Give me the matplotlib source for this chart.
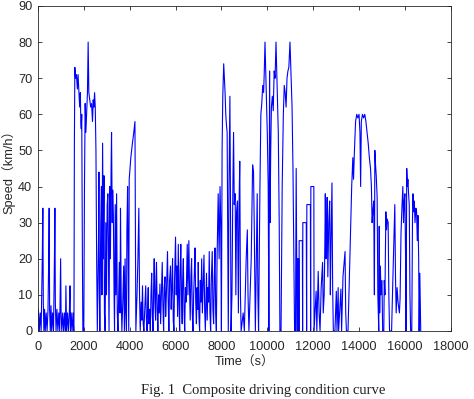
import matplotlib
matplotlib.use("Agg")
import matplotlib.pyplot as plt
import numpy as np

# composite driving cycle (time in s, speed in km/h)
urban_t = [0, 20, 60, 100, 140, 190, 215, 235, 260, 290, 320, 360, 400, 440, 470, 490, 510, 540,
           570, 600, 640, 680, 720, 740, 760, 790, 830, 870, 910, 950, 990, 1010, 1040, 1080,
           1120, 1160, 1200, 1220, 1250, 1290, 1330, 1370, 1400, 1420, 1450, 1490, 1530, 1560]
urban_v = [0, 6, 0, 5, 0, 20, 34, 8, 0, 6, 0, 5, 0, 6, 20, 34, 6, 0,
           7, 0, 5, 0, 20, 34, 8, 0, 6, 0, 5, 0, 20, 5, 0, 5,
           0, 5, 0, 12.5, 0, 5, 0, 5, 12.5, 0, 5, 0, 5, 0]

highway1_t = [1570, 1590, 1610, 1640, 1680, 1720, 1750, 1790, 1820, 1850, 1870, 1890, 1910, 1940,
              1960, 2000, 2030, 2060, 2090, 2120, 2160, 2190, 2220, 2260, 2300, 2340, 2380, 2410,
              2440, 2470, 2500, 2530, 2560, 2590]
highway1_v = [0, 52, 73, 70, 71, 67, 71, 66, 62, 66, 58, 56, 60, 20,
              0, 0, 40, 63, 55, 60, 66, 80, 66, 64, 62, 63, 58, 64,
              62, 66, 62, 50, 20, 0]

suburb_t = [2640, 2660, 2680, 2700, 2740, 2770, 2790, 2820, 2850, 2880, 2900, 2930, 2960, 2990,
            3020, 3050, 3070, 3100, 3130, 3160, 3190, 3210, 3240, 3260, 3290, 3320, 3340, 3370,
            3400, 3430, 3460, 3490, 3520, 3550, 3580, 3600, 3630, 3660, 3700, 3740, 3770, 3800,
            3830, 3860, 3880, 3910, 3940, 3960, 3980, 4050, 4120, 4180, 4230, 4250, 4270, 4320,
            4360, 4400, 4430, 4460]
suburb_v = [25, 44, 10, 0, 30, 40, 10, 52, 20, 43, 5, 0, 30, 10,
            35, 38, 25, 0, 40, 20, 45, 55, 30, 39, 32, 10, 0, 35,
            10, 38, 5, 0, 10, 19, 5, 34, 10, 0, 8, 18, 0, 20,
            5, 0, 28, 40, 15, 0, 42, 48, 52, 55, 58, 30, 0, 10,
            20, 34, 10, 0]

congested_t = [4500, 4530, 4560, 4590, 4620, 4660, 4700, 4730, 4760, 4790, 4810, 4830, 4870, 4900,
               4930, 4960, 4990, 5020, 5050, 5070, 5100, 5130, 5150, 5170, 5200, 5230, 5260, 5290,
               5320, 5350, 5380, 5420, 5450, 5480, 5510, 5540, 5570, 5600, 5650, 5680, 5710, 5740,
               5780, 5810, 5840, 5870, 5900, 5930, 5960, 6000, 6030, 6060, 6090, 6120, 6150, 6180,
               6200, 6230, 6260, 6290, 6310, 6340, 6370, 6400, 6430, 6460, 6490, 6510, 6540, 6580,
               6610, 6640, 6670, 6700, 6730, 6760, 6790, 6820, 6850, 6880, 6910, 6940, 6970, 6990,
               7020, 7050, 7080, 7110, 7140, 7170, 7200, 7240, 7270, 7300, 7330, 7350, 7380, 7410,
               7440, 7470, 7500, 7530, 7560, 7600, 7630, 7660, 7690, 7720, 7750, 7780, 7810, 7840,
               7860]
congested_v = [8, 3, 12.5, 2, 0, 6, 12.5, 3, 0, 8, 12, 2, 6, 0,
               10, 16, 4, 0, 14, 20, 8, 3, 15, 19, 6, 0, 10, 5,
               13, 2, 9, 19, 7, 0, 12, 15, 4, 10, 22, 8, 0, 14,
               18, 6, 12, 20, 3, 0, 15, 26, 10, 18, 4, 24, 8, 0,
               16, 24, 10, 2, 14, 20, 6, 0, 12, 8, 18, 24, 10, 25,
               12, 3, 15, 20, 5, 0, 10, 16, 23, 8, 2, 12, 6, 19,
               4, 0, 14, 8, 20, 5, 12, 21, 6, 0, 10, 16, 3, 12,
               8, 22, 5, 0, 14, 22, 6, 2, 15, 23, 5, 0, 20, 30,
               38]

highway2_t = [7900, 7940, 7970, 8000, 8030, 8060, 8100, 8130, 8160, 8190, 8220, 8250, 8280, 8300,
              8330, 8370, 8400, 8420, 8460, 8500, 8530, 8560, 8600, 8630, 8660, 8700, 8740, 8770,
              8800, 8830, 8860, 8950, 9000, 9080, 9130, 9160, 9200, 9300, 9360, 9400, 9430, 9480,
              9520, 9560, 9590, 9620]
highway2_v = [20, 40, 30, 0, 50, 65, 74, 70, 66, 60, 57, 55, 20, 0,
              40, 65, 30, 0, 10, 40, 55, 35, 38, 10, 33, 36, 5, 35,
              47, 10, 0, 5, 0, 20, 28, 10, 0, 20, 46, 44, 30, 0,
              20, 38, 10, 0]

fast_t = [9680, 9720, 9760, 9800, 9840, 9870, 9900, 9930, 9960, 10000, 10040, 10070, 10100, 10120,
          10150, 10180, 10220, 10260, 10300, 10340, 10380, 10410, 10440, 10480, 10520, 10550,
          10600, 10650, 10700, 10740, 10780, 10820, 10860, 10900, 10940, 10990, 11020, 11050,
          11080, 11120, 11160, 11190, 11230, 11260, 11280, 11300]
fast_v = [40, 60, 63, 68, 66, 72, 80, 73, 65, 55, 40, 0, 72, 30,
          50, 62, 65, 61, 72, 70, 80, 72, 65, 55, 30, 0,
          0, 40, 60, 68, 66, 62, 70, 72, 73, 80, 74, 68,
          62, 45, 20, 0, 0, 45, 20, 0]

steps_t = [11310, 11320, 11370, 11380, 11390, 11530, 11540, 11550, 11700, 11715, 11725, 11880,
           11890, 11900, 12030, 12040]
steps_v = [0, 20, 20, 0, 25, 25, 0, 30, 30, 0, 35, 35,
           0, 40, 40, 0]

mixed_t = [12080, 12130, 12160, 12220, 12260, 12300, 12350, 12410, 12440, 12480, 12510, 12530,
           12560, 12590, 12610, 12640, 12680, 12720, 12750, 12780, 12820, 12850, 12880, 12950,
           13010, 13040, 13090, 13110, 13210, 13240, 13300, 13390, 13420, 13450, 13520, 13600,
           13680, 13730, 13760, 13800, 13850, 13900, 13950, 14000, 14040, 14070, 14100, 14150,
           14200, 14250, 14300, 14350, 14400, 14450, 14500, 14540, 14570, 14600, 14640, 14670,
           14690, 14720, 14750, 14790, 14820, 14860]
mixed_v = [5, 11, 0, 16.5, 5, 0, 12, 19, 5, 10, 24, 38,
           20, 28, 37, 15, 30, 36, 10, 25, 41, 12, 0, 0,
           11, 0, 12, 0, 11.6, 0, 15, 22, 5, 0, 0, 20,
           40, 48, 42, 50, 58, 60, 59, 60, 55, 40, 58, 60,
           59, 60, 58, 55, 52, 48, 45, 40, 30, 33, 36, 10,
           50, 46, 43, 37, 10, 0]

final_t = [14880, 14900, 14930, 14960, 15000, 15030, 15080, 15100, 15130, 15170, 15200, 15230,
           15270, 15300, 15330, 15420, 15450, 15500, 15540, 15560, 15590, 15620, 15660, 15700,
           15760, 15790, 15830, 15870, 15910, 15940, 15970, 16000, 16030, 16050, 16080, 16110,
           16130, 16160, 16190, 16220, 16250, 16300, 16330, 16350, 16380, 16410, 16440, 16480,
           16510, 16540, 16570, 16600, 16620, 16650, 16670, 16690]
final_v = [29, 5, 18, 10, 14, 0, 0, 14, 10, 33, 28, 31,
           30, 10, 0, 0, 8, 20, 30, 35, 15, 5, 12, 8,
           5, 9, 27, 34, 40, 30, 36, 38, 20, 0, 45, 40,
           42, 38, 35, 10, 0, 0, 30, 38, 33, 36, 30, 34,
           33, 25, 32, 20, 0, 16, 8, 0]

time_s = np.concatenate([urban_t, highway1_t, suburb_t, congested_t, highway2_t,
                         fast_t, steps_t, mixed_t, final_t])
speed = np.concatenate([urban_v, highway1_v, suburb_v, congested_v, highway2_v,
                        fast_v, steps_v, mixed_v, final_v])

plt.rcParams['font.family'] = ['Liberation Sans', 'Noto Sans CJK SC', 'DejaVu Sans']

fig = plt.figure(figsize=(4.74, 3.99), dpi=100)
ax = fig.add_axes([0.080, 0.1705, 0.871, 0.8145])
ax.plot(time_s, speed, color='#0000ff', linewidth=0.8)

ax.set_xlim(0, 18000)
ax.set_ylim(0, 90)
ax.set_xticks(np.arange(0, 18001, 2000))
ax.set_yticks(np.arange(0, 91, 10))
ax.tick_params(direction='in', top=True, right=True, length=3, width=0.6,
               labelsize=9.2, colors='#262626')
ax.tick_params(axis='x', pad=7)
ax.tick_params(axis='y', pad=4)
for sp in ax.spines.values():
    sp.set_color('#262626')
    sp.set_linewidth(0.6)

ax.set_xlabel('Time（s）', fontsize=9.2, color='#262626', labelpad=3)
ax.set_ylabel('Speed（km/h）', fontsize=9.2, color='#262626', labelpad=2)

fig.text(0.555, 0.012, 'Fig. 1  Composite driving condition curve', ha='center',
         va='baseline', fontsize=10.5, family='Liberation Serif', color='#202020')

fig.savefig('out.png', dpi=100)
